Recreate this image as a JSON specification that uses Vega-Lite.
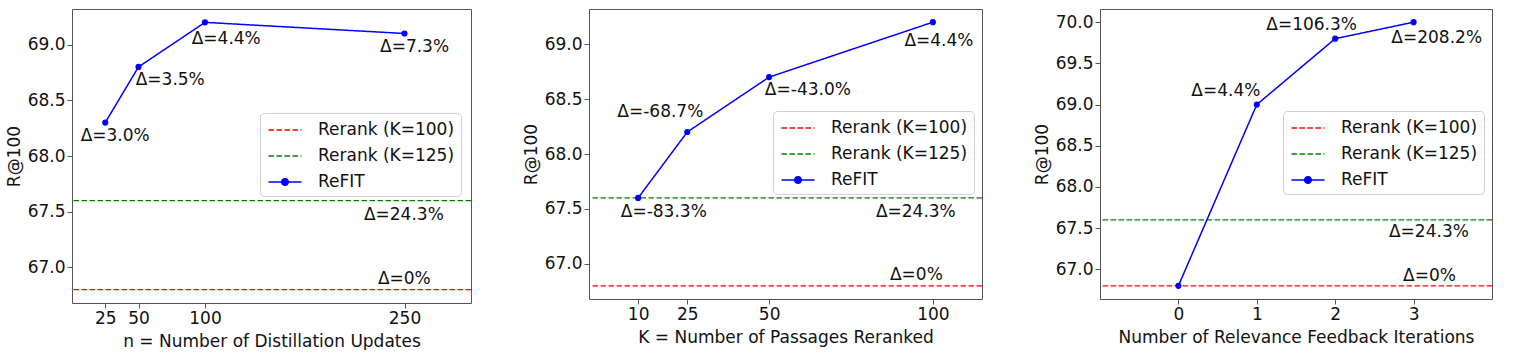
{
  "$schema": "https://vega.github.io/schema/vega-lite/v6.json",
  "background": "white",
  "padding": {"left": 4, "top": 8, "right": 0, "bottom": 0},
  "spacing": 48,
  "config": {
    "font": "DejaVu Sans",
    "view": {"stroke": "#555", "strokeWidth": 1},
    "axis": {"labelFont": "DejaVu Sans", "labelFontSize": 17, "labelColor": "#111", "titleFont": "DejaVu Sans", "titleFontSize": 17, "titleFontWeight": "normal", "titleColor": "#111", "domain": false, "grid": false, "tickColor": "#555", "tickSize": 5, "labelPadding": 2, "titlePadding": 4},
    "axisX": {"titlePadding": 7},
    "legend": {"labelFont": "DejaVu Sans", "labelFontSize": 17, "labelColor": "#111", "title": null, "orient": "none", "fillColor": "rgba(255,255,255,0.85)", "strokeColor": "#d0d0d0", "cornerRadius": 4, "padding": 6, "symbolSize": 400, "symbolStrokeWidth": 1.5, "rowPadding": 7, "labelOffset": 22, "symbolOffset": 8}
  },
  "datasets": {
    "base": [
      {"y": 66.8, "series": "Rerank (K=100)"},
      {"y": 67.6, "series": "Rerank (K=125)"}
    ],
    "p1": [
      {"x": 25, "y": 68.3, "series": "ReFIT"},
      {"x": 50, "y": 68.8, "series": "ReFIT"},
      {"x": 100, "y": 69.2, "series": "ReFIT"},
      {"x": 250, "y": 69.1, "series": "ReFIT"}
    ],
    "l1": [
      {"x": 6.5, "y": 68.18, "label": "Δ=3.0%"},
      {"x": 47.9, "y": 68.68, "label": "Δ=3.5%"},
      {"x": 90, "y": 69.05, "label": "Δ=4.4%"},
      {"x": 231.6, "y": 68.98, "label": "Δ=7.3%"},
      {"x": 219.5, "y": 67.47, "label": "Δ=24.3%"},
      {"x": 230, "y": 66.9, "label": "Δ=0%"}
    ],
    "p2": [
      {"x": 10, "y": 67.6, "series": "ReFIT"},
      {"x": 25, "y": 68.2, "series": "ReFIT"},
      {"x": 50, "y": 68.7, "series": "ReFIT"},
      {"x": 100, "y": 69.2, "series": "ReFIT"}
    ],
    "l2": [
      {"x": 4.7, "y": 67.47, "label": "Δ=-83.3%"},
      {"x": 3.65, "y": 68.38, "label": "Δ=-68.7%"},
      {"x": 48.7, "y": 68.58, "label": "Δ=-43.0%"},
      {"x": 91.3, "y": 69.03, "label": "Δ=4.4%"},
      {"x": 82.6, "y": 67.47, "label": "Δ=24.3%"},
      {"x": 86.9, "y": 66.9, "label": "Δ=0%"}
    ],
    "p3": [
      {"x": 0, "y": 66.8, "series": "ReFIT"},
      {"x": 1, "y": 69.0, "series": "ReFIT"},
      {"x": 2, "y": 69.8, "series": "ReFIT"},
      {"x": 3, "y": 70.0, "series": "ReFIT"}
    ],
    "l3": [
      {"x": 0.165, "y": 69.16, "label": "Δ=4.4%"},
      {"x": 1.121, "y": 69.96, "label": "Δ=106.3%"},
      {"x": 2.716, "y": 69.81, "label": "Δ=208.2%"},
      {"x": 2.686, "y": 67.45, "label": "Δ=24.3%"},
      {"x": 2.865, "y": 66.92, "label": "Δ=0%"}
    ]
  },
  "resolve": {
    "scale": {"x": "independent", "y": "independent", "color": "independent", "strokeDash": "independent"},
    "legend": {"color": "independent", "strokeDash": "independent"}
  },
  "hconcat": [
    {
      "width": 399, "height": 294,
      "layer": [
        {
          "data": {"name": "base"},
          "mark": {"type": "rule", "strokeWidth": 1.3},
          "encoding": {
            "y": {"field": "y", "type": "quantitative", "scale": {"domain": [66.68, 69.32], "nice": false, "zero": false}, "axis": {"values": [67, 67.5, 68, 68.5, 69], "format": ".1f", "title": "R@100"}},
            "color": {"field": "series", "type": "nominal", "scale": {"domain": ["Rerank (K=100)", "Rerank (K=125)", "ReFIT"], "range": ["#ff0000", "#008000", "#0000ff"]}, "legend": {"legendX": 188, "legendY": 104, "encode": {"symbols": {"update": {"shape": {"signal": "datum.value === 'ReFIT' ? 'M-1.65,0H1.65M0.33,0A0.33,0.33,0,1,1,-0.33,0A0.33,0.33,0,1,1,0.33,0' : 'M-1.65,0H1.65'"}, "fill": {"signal": "datum.value === 'ReFIT' ? '#0000ff' : 'transparent'"}}}}}},
            "strokeDash": {"field": "series", "type": "nominal", "scale": {"domain": ["Rerank (K=100)", "Rerank (K=125)", "ReFIT"], "range": [[5.5, 2.5], [5.5, 2.5], [1, 0]]}}
          }
        },
        {
          "data": {"name": "p1"},
          "mark": {"type": "line", "strokeWidth": 1.5, "point": {"filled": true, "size": 38}},
          "encoding": {
            "x": {"field": "x", "type": "quantitative", "scale": {"domain": [0, 300], "nice": false, "zero": false}, "axis": {"values": [25, 50, 100, 250], "format": "d", "title": "n = Number of Distillation Updates"}},
            "y": {"field": "y", "type": "quantitative"},
            "color": {"field": "series", "type": "nominal"},
            "strokeDash": {"field": "series", "type": "nominal"}
          }
        },
        {
          "data": {"name": "l1"},
          "mark": {"type": "text", "align": "left", "baseline": "middle", "fontSize": 17, "color": "#111", "font": "DejaVu Sans"},
          "encoding": {
            "x": {"field": "x", "type": "quantitative"},
            "y": {"field": "y", "type": "quantitative"},
            "text": {"field": "label"}
          }
        }
      ]
    },
    {
      "width": 393, "height": 290,
      "layer": [
        {
          "data": {"name": "base"},
          "mark": {"type": "rule", "strokeWidth": 1.3},
          "encoding": {
            "y": {"field": "y", "type": "quantitative", "scale": {"domain": [66.68, 69.32], "nice": false, "zero": false}, "axis": {"values": [67, 67.5, 68, 68.5, 69], "format": ".1f", "title": "R@100"}},
            "color": {"field": "series", "type": "nominal", "scale": {"domain": ["Rerank (K=100)", "Rerank (K=125)", "ReFIT"], "range": ["#ff0000", "#008000", "#0000ff"]}, "legend": {"legendX": 184, "legendY": 102, "encode": {"symbols": {"update": {"shape": {"signal": "datum.value === 'ReFIT' ? 'M-1.65,0H1.65M0.33,0A0.33,0.33,0,1,1,-0.33,0A0.33,0.33,0,1,1,0.33,0' : 'M-1.65,0H1.65'"}, "fill": {"signal": "datum.value === 'ReFIT' ? '#0000ff' : 'transparent'"}}}}}},
            "strokeDash": {"field": "series", "type": "nominal", "scale": {"domain": ["Rerank (K=100)", "Rerank (K=125)", "ReFIT"], "range": [[5.5, 2.5], [5.5, 2.5], [1, 0]]}}
          }
        },
        {
          "data": {"name": "p2"},
          "mark": {"type": "line", "strokeWidth": 1.5, "point": {"filled": true, "size": 38}},
          "encoding": {
            "x": {"field": "x", "type": "quantitative", "scale": {"domain": [-5, 115], "nice": false, "zero": false}, "axis": {"values": [10, 25, 50, 100], "format": "d", "title": "K = Number of Passages Reranked"}},
            "y": {"field": "y", "type": "quantitative"},
            "color": {"field": "series", "type": "nominal"},
            "strokeDash": {"field": "series", "type": "nominal"}
          }
        },
        {
          "data": {"name": "l2"},
          "mark": {"type": "text", "align": "left", "baseline": "middle", "fontSize": 17, "color": "#111", "font": "DejaVu Sans"},
          "encoding": {
            "x": {"field": "x", "type": "quantitative"},
            "y": {"field": "y", "type": "quantitative"},
            "text": {"field": "label"}
          }
        }
      ]
    },
    {
      "width": 392, "height": 290,
      "layer": [
        {
          "data": {"name": "base"},
          "mark": {"type": "rule", "strokeWidth": 1.3},
          "encoding": {
            "y": {"field": "y", "type": "quantitative", "scale": {"domain": [66.64, 70.16], "nice": false, "zero": false}, "axis": {"values": [67, 67.5, 68, 68.5, 69, 69.5, 70], "format": ".1f", "title": "R@100"}},
            "color": {"field": "series", "type": "nominal", "scale": {"domain": ["Rerank (K=100)", "Rerank (K=125)", "ReFIT"], "range": ["#ff0000", "#008000", "#0000ff"]}, "legend": {"legendX": 183, "legendY": 102, "encode": {"symbols": {"update": {"shape": {"signal": "datum.value === 'ReFIT' ? 'M-1.65,0H1.65M0.33,0A0.33,0.33,0,1,1,-0.33,0A0.33,0.33,0,1,1,0.33,0' : 'M-1.65,0H1.65'"}, "fill": {"signal": "datum.value === 'ReFIT' ? '#0000ff' : 'transparent'"}}}}}},
            "strokeDash": {"field": "series", "type": "nominal", "scale": {"domain": ["Rerank (K=100)", "Rerank (K=125)", "ReFIT"], "range": [[5.5, 2.5], [5.5, 2.5], [1, 0]]}}
          }
        },
        {
          "data": {"name": "p3"},
          "mark": {"type": "line", "strokeWidth": 1.5, "point": {"filled": true, "size": 38}},
          "encoding": {
            "x": {"field": "x", "type": "quantitative", "scale": {"domain": [-1, 4], "nice": false, "zero": false}, "axis": {"values": [0, 1, 2, 3], "format": "d", "title": "Number of Relevance Feedback Iterations"}},
            "y": {"field": "y", "type": "quantitative"},
            "color": {"field": "series", "type": "nominal"},
            "strokeDash": {"field": "series", "type": "nominal"}
          }
        },
        {
          "data": {"name": "l3"},
          "mark": {"type": "text", "align": "left", "baseline": "middle", "fontSize": 17, "color": "#111", "font": "DejaVu Sans"},
          "encoding": {
            "x": {"field": "x", "type": "quantitative"},
            "y": {"field": "y", "type": "quantitative"},
            "text": {"field": "label"}
          }
        }
      ]
    }
  ]
}
